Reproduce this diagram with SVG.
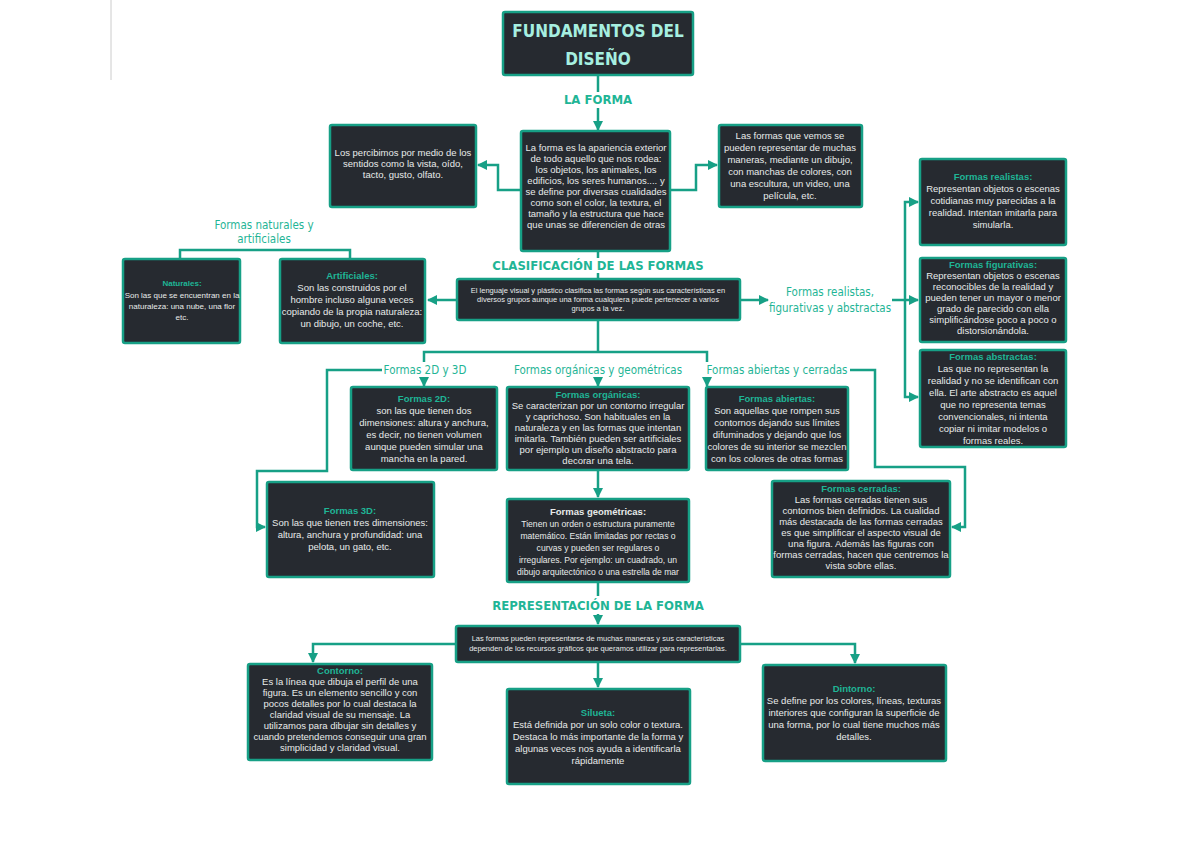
<svg xmlns="http://www.w3.org/2000/svg" width="1200" height="848" viewBox="0 0 1200 848">
<defs>
<marker id="ah" viewBox="0 0 10 10" refX="9" refY="5" markerWidth="4" markerHeight="4" orient="auto"><path d="M0,0L10,5L0,10z" fill="#17a086"/></marker>
<style>
.b{fill:#262a30;stroke:#17a086;stroke-width:2.5}
.t{font-family:"Liberation Sans",Arial,sans-serif;font-size:9.5px;fill:#e8eaea;text-anchor:middle}
.n{font-size:8.6px}
.s{font-size:7.5px}
.h{fill:#1fb596;font-weight:bold}
.lab{font-family:"DejaVu Sans Condensed","DejaVu Sans",sans-serif;font-size:11.5px;fill:#1fb596;text-anchor:middle}
.cap{font-family:"DejaVu Sans Condensed","DejaVu Sans",sans-serif;font-size:13px;fill:#1fb596;text-anchor:middle;font-weight:bold}
.c{fill:none;stroke:#17a086;stroke-width:2.5}
.ca{fill:none;stroke:#17a086;stroke-width:2.5;marker-end:url(#ah)}
</style>
</defs>
<rect width="1200" height="848" fill="#ffffff"/>
<line x1="111" y1="0" x2="111" y2="80" stroke="#cccccc" stroke-width="1"/>

<g id="connectors">
<path class="c" d="M598,75V92"/>
<path class="ca" d="M598,108V130"/>
<path class="ca" d="M521,190H498V165H478"/>
<path class="ca" d="M670,190H696V165H717"/>
<path class="c" d="M598,251V258"/>
<path class="c" d="M598,273V279"/>
<path class="ca" d="M457,300H428"/>
<path class="c" d="M180,258V250H350V258"/>
<path class="ca" d="M740,300H768"/>
<path class="c" d="M892,300H905"/>
<path class="ca" d="M905,300H918"/>
<path class="ca" d="M905,300V202H918"/>
<path class="ca" d="M905,300V397H918"/>
<path class="c" d="M598,320V352M424,362V352H707V362"/>
<path class="ca" d="M424,378V386"/>
<path class="ca" d="M598,378V386"/>
<path class="ca" d="M707,378V386"/>
<path class="ca" d="M382,370H327V471H257V527H265"/>
<path class="ca" d="M850,370H875V467H965V527H952"/>
<path class="ca" d="M598,470V497"/>
<path class="c" d="M598,582V596"/>
<path class="ca" d="M598,614V624"/>
<path class="ca" d="M456,644H313V662"/>
<path class="ca" d="M740,644H855V663"/>
<path class="ca" d="M598,662V687"/>
</g>

<g id="title"><rect class="b" x="503" y="12" width="190" height="63" rx="2" stroke-width="3"/>
<text x="598" y="37" class="cap" style="fill:#a6efe0;font-size:17px">FUNDAMENTOS DEL</text>
<text x="598" y="65" class="cap" style="fill:#a6efe0;font-size:17px">DISEÑO</text></g>
<text id="lbl-forma" x="598" y="104" class="cap">LA FORMA</text>

<g id="n-centro"><rect class="b" x="521" y="131" width="149" height="120" rx="2"/>
<text class="t"><tspan x="596" y="151">La forma es la apariencia exterior</tspan><tspan x="596" y="162">de todo aquello que nos rodea:</tspan><tspan x="596" y="173">los objetos, los animales, los</tspan><tspan x="596" y="184">edificios, los seres humanos.... y</tspan><tspan x="596" y="195">se define por diversas cualidades</tspan><tspan x="596" y="206">como son el color, la textura, el</tspan><tspan x="596" y="217">tamaño y la estructura que hace</tspan><tspan x="596" y="228">que unas se diferencien de otras</tspan></text></g>

<g id="n-sentidos"><rect class="b" x="330" y="125" width="146" height="82" rx="2"/>
<text class="t"><tspan x="403" y="156">Los percibimos por medio de los</tspan><tspan x="403" y="167">sentidos como la vista, oído,</tspan><tspan x="403" y="178">tacto, gusto, olfato.</tspan></text></g>

<g id="n-representar"><rect class="b" x="719" y="125" width="143" height="82" rx="2"/>
<text class="t"><tspan x="790" y="139">Las formas que vemos se</tspan><tspan x="790" y="151">pueden representar de muchas</tspan><tspan x="790" y="163">maneras, mediante un dibujo,</tspan><tspan x="790" y="175">con manchas de colores, con</tspan><tspan x="790" y="187">una escultura, un video, una</tspan><tspan x="790" y="199">película, etc.</tspan></text></g>

<text id="lbl-clasif" x="598" y="270" class="cap">CLASIFICACIÓN DE LAS FORMAS</text>
<g id="n-clasif"><rect class="b" x="457" y="279" width="283" height="41" rx="2"/>
<text class="t s"><tspan x="598" y="293">El lenguaje visual y plástico clasifica las formas según sus características en</tspan><tspan x="598" y="302">diversos grupos aunque una forma cualquiera puede pertenecer a varios</tspan><tspan x="598" y="311">grupos a la vez.</tspan></text></g>

<text id="lbl-nat" class="lab"><tspan x="264" y="229">Formas naturales y</tspan><tspan x="264" y="243">artificiales</tspan></text>
<g id="n-naturales"><rect class="b" x="123" y="259" width="117" height="84" rx="2"/>
<text class="t" style="font-size:8px"><tspan x="182" y="286" class="h">Naturales:</tspan><tspan x="182" y="298">Son las que se encuentran en la</tspan><tspan x="182" y="309">naturaleza: una nube, una flor</tspan><tspan x="182" y="320">etc.</tspan></text></g>
<g id="n-artificiales"><rect class="b" x="280" y="259" width="145" height="84" rx="2"/>
<text class="t"><tspan x="352" y="279" class="h">Artificiales:</tspan><tspan x="352" y="291">Son las construidos por el</tspan><tspan x="352" y="303">hombre incluso alguna veces</tspan><tspan x="352" y="315">copiando de la propia naturaleza:</tspan><tspan x="352" y="327">un dibujo, un coche, etc.</tspan></text></g>

<text id="lbl-real" class="lab"><tspan x="830" y="296">Formas realistas,</tspan><tspan x="830" y="312">figurativas y abstractas</tspan></text>
<g id="n-realistas"><rect class="b" x="920" y="159" width="146" height="86" rx="2"/>
<text class="t"><tspan x="993" y="180" class="h">Formas realistas:</tspan><tspan x="993" y="192">Representan objetos o escenas</tspan><tspan x="993" y="204">cotidianas muy parecidas a la</tspan><tspan x="993" y="216">realidad. Intentan imitarla para</tspan><tspan x="993" y="228">simularla.</tspan></text></g>
<g id="n-figurativas"><rect class="b" x="920" y="258" width="146" height="84" rx="2"/>
<text class="t"><tspan x="993" y="268" class="h">Formas figurativas:</tspan><tspan x="993" y="279">Representan objetos o escenas</tspan><tspan x="993" y="290">reconocibles de la realidad y</tspan><tspan x="993" y="301">pueden tener un mayor o menor</tspan><tspan x="993" y="312">grado de parecido con ella</tspan><tspan x="993" y="323">simplificándose poco a poco o</tspan><tspan x="993" y="334">distorsionándola.</tspan></text></g>
<g id="n-abstractas"><rect class="b" x="920" y="350" width="146" height="97" rx="2"/>
<text class="t"><tspan x="993" y="360" class="h">Formas abstractas:</tspan><tspan x="993" y="372">Las que no representan la</tspan><tspan x="993" y="384">realidad y no se identifican con</tspan><tspan x="993" y="396">ella. El arte abstracto es aquel</tspan><tspan x="993" y="408">que no representa temas</tspan><tspan x="993" y="420">convencionales, ni intenta</tspan><tspan x="993" y="432">copiar ni imitar modelos o</tspan><tspan x="993" y="444">formas reales.</tspan></text></g>

<text id="lbl-2d3d" x="425" y="374" class="lab">Formas 2D y 3D</text>
<text id="lbl-org" x="598" y="374" class="lab">Formas orgánicas y geométricas</text>
<text id="lbl-abi" x="777" y="374" class="lab">Formas abiertas y cerradas</text>

<g id="n-2d"><rect class="b" x="351" y="387" width="146" height="83" rx="2"/>
<text class="t"><tspan x="424" y="402" class="h">Formas 2D:</tspan><tspan x="424" y="414">son las que tienen dos</tspan><tspan x="424" y="426">dimensiones: altura y anchura,</tspan><tspan x="424" y="438">es decir, no tienen volumen</tspan><tspan x="424" y="450">aunque pueden simular una</tspan><tspan x="424" y="462">mancha en la pared.</tspan></text></g>
<g id="n-organicas"><rect class="b" x="507" y="387" width="182" height="83" rx="2"/>
<text class="t"><tspan x="598" y="398" class="h">Formas orgánicas:</tspan><tspan x="598" y="409">Se caracterizan por un contorno irregular</tspan><tspan x="598" y="420">y caprichoso. Son habituales en la</tspan><tspan x="598" y="431">naturaleza y en las formas que intentan</tspan><tspan x="598" y="442">imitarla. También pueden ser artificiales</tspan><tspan x="598" y="453">por ejemplo un diseño abstracto para</tspan><tspan x="598" y="464">decorar una tela.</tspan></text></g>
<g id="n-abiertas"><rect class="b" x="706" y="387" width="142" height="83" rx="2"/>
<text class="t"><tspan x="777" y="402" class="h">Formas abiertas:</tspan><tspan x="777" y="414">Son aquellas que rompen sus</tspan><tspan x="777" y="426">contornos dejando sus límites</tspan><tspan x="777" y="438">difuminados y dejando que los</tspan><tspan x="777" y="450">colores de su interior se mezclen</tspan><tspan x="777" y="462">con los colores de otras formas</tspan></text></g>

<g id="n-3d"><rect class="b" x="267" y="482" width="167" height="95" rx="2"/>
<text class="t"><tspan x="350" y="514" class="h">Formas 3D:</tspan><tspan x="350" y="526">Son las que tienen tres dimensiones:</tspan><tspan x="350" y="538">altura, anchura y profundidad: una</tspan><tspan x="350" y="550">pelota, un gato, etc.</tspan></text></g>
<g id="n-geometricas"><rect class="b" x="507" y="499" width="182" height="83" rx="2"/>
<text class="t n"><tspan x="598" y="515" style="font-weight:bold;font-size:9.5px">Formas geométricas:</tspan><tspan x="598" y="527">Tienen un orden o estructura puramente</tspan><tspan x="598" y="539">matemático. Están limitadas por rectas o</tspan><tspan x="598" y="551">curvas y pueden ser regulares o</tspan><tspan x="598" y="563">irregulares. Por ejemplo: un cuadrado, un</tspan><tspan x="598" y="575">dibujo arquitectónico o una estrella de mar</tspan></text></g>
<g id="n-cerradas"><rect class="b" x="772" y="481" width="178" height="96" rx="2"/>
<text class="t"><tspan x="861" y="492" class="h">Formas cerradas:</tspan><tspan x="861" y="503">Las formas cerradas tienen sus</tspan><tspan x="861" y="514">contornos bien definidos. La cualidad</tspan><tspan x="861" y="525">más destacada de las formas cerradas</tspan><tspan x="861" y="536">es que simplificar el aspecto visual de</tspan><tspan x="861" y="547">una figura. Además las figuras con</tspan><tspan x="861" y="558">formas cerradas, hacen que centremos la</tspan><tspan x="861" y="569">vista sobre ellas.</tspan></text></g>

<text id="lbl-rep" x="598" y="610" class="cap">REPRESENTACIÓN DE LA FORMA</text>
<g id="n-rep"><rect class="b" x="456" y="626" width="284" height="36" rx="2"/>
<text class="t s"><tspan x="598" y="641">Las formas pueden representarse de muchas maneras y sus características</tspan><tspan x="598" y="651">dependen de los recursos gráficos que queramos utilizar para representarlas.</tspan></text></g>

<g id="n-contorno"><rect class="b" x="248" y="664" width="184" height="96" rx="2"/>
<text class="t"><tspan x="340" y="674" class="h">Contorno:</tspan><tspan x="340" y="685">Es la línea que dibuja el perfil de una</tspan><tspan x="340" y="696">figura. Es un elemento sencillo y con</tspan><tspan x="340" y="707">pocos detalles por lo cual destaca la</tspan><tspan x="340" y="718">claridad visual de su mensaje. La</tspan><tspan x="340" y="729">utilizamos para dibujar sin detalles y</tspan><tspan x="340" y="740">cuando pretendemos conseguir una gran</tspan><tspan x="340" y="751">simplicidad y claridad visual.</tspan></text></g>
<g id="n-silueta"><rect class="b" x="507" y="689" width="183" height="95" rx="2"/>
<text class="t"><tspan x="598" y="716" class="h">Silueta:</tspan><tspan x="598" y="728">Está definida por un solo color o textura.</tspan><tspan x="598" y="740">Destaca lo más importante de la forma y</tspan><tspan x="598" y="752">algunas veces nos ayuda a identificarla</tspan><tspan x="598" y="764">rápidamente</tspan></text></g>
<g id="n-dintorno"><rect class="b" x="763" y="665" width="183" height="96" rx="2"/>
<text class="t"><tspan x="854" y="692" class="h">Dintorno:</tspan><tspan x="854" y="704">Se define por los colores, líneas, texturas</tspan><tspan x="854" y="716">interiores que configuran la superficie de</tspan><tspan x="854" y="728">una forma, por lo cual tiene muchos más</tspan><tspan x="854" y="740">detalles.</tspan></text></g>
</svg>
